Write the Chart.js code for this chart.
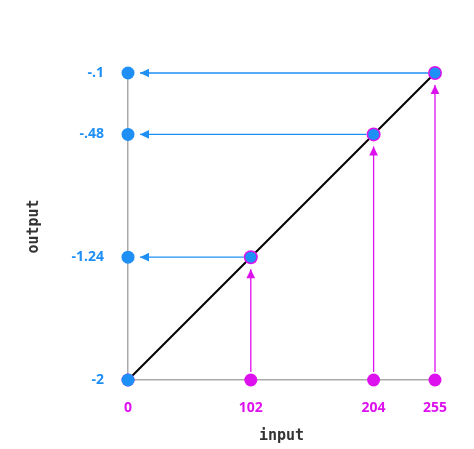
<!DOCTYPE html>
<html>
<head>
<meta charset="utf-8">
<script src="https://cdn.jsdelivr.net/npm/chart.js@4"></script>
<style>body{margin:0;background:#fff}</style>
</head>
<body>
<canvas id="c" width="474" height="449"></canvas>
<script>
const inputs = [0, 102, 204, 255];
const outputs = [-2, -1.24, -0.48, -0.1];
const blue = "#1e8ff5";
const magenta = "#dd11ee";

// arrows: blue from curve point to y axis, magenta from x axis up to curve
const arrowPlugin = {
  id: "arrows",
  beforeDatasetsDraw(chart) {
    const { ctx, scales: { x, y } } = chart;
    const head = (x1, y1, x2, y2, color) => {
      const a = Math.atan2(y2 - y1, x2 - x1);
      ctx.strokeStyle = color; ctx.fillStyle = color; ctx.lineWidth = 1.3;
      ctx.beginPath(); ctx.moveTo(x1, y1); ctx.lineTo(x2, y2); ctx.stroke();
      ctx.beginPath();
      ctx.moveTo(x2, y2);
      ctx.lineTo(x2 - 10 * Math.cos(a - 0.45), y2 - 10 * Math.sin(a - 0.45));
      ctx.lineTo(x2 - 10 * Math.cos(a + 0.45), y2 - 10 * Math.sin(a + 0.45));
      ctx.closePath(); ctx.fill();
    };
    ctx.save();
    for (let i = 1; i < inputs.length; i++) {
      const px = x.getPixelForValue(inputs[i]);
      const py = y.getPixelForValue(outputs[i]);
      head(px - 7, py, x.getPixelForValue(0) + 12, py, blue);
      head(px, y.getPixelForValue(-2) - 8, px, py + 12, magenta);
    }
    ctx.restore();
  }
};

new Chart(document.getElementById("c"), {
  type: "scatter",
  data: {
    datasets: [
      { type: "line", data: [{ x: 0, y: -2 }, { x: 255, y: -0.1 }], borderColor: "#000", borderWidth: 2, pointRadius: 0 },
      { data: inputs.map(v => ({ x: v, y: -2 })), backgroundColor: magenta, pointRadius: 6.5, borderWidth: 0 },
      { data: inputs.slice(1).map((v, i) => ({ x: v, y: outputs[i + 1] })), backgroundColor: magenta, pointRadius: 7, borderWidth: 0 },
      { data: inputs.slice(1).map((v, i) => ({ x: v, y: outputs[i + 1] })), backgroundColor: blue, pointRadius: 5.5, borderWidth: 0 },
      { data: outputs.map(v => ({ x: 0, y: v })), backgroundColor: blue, pointRadius: 6.5, borderWidth: 0 }
    ].reverse()
  },
  options: {
    responsive: false,
    animation: false,
    clip: false,
    layout: { padding: { top: 73, right: 39 } },
    plugins: { legend: { display: false }, tooltip: { enabled: false } },
    scales: {
      x: {
        type: "linear", min: 0, max: 255,
        afterBuildTicks: s => { s.ticks = inputs.map(v => ({ value: v })); },
        afterFit: s => { s.height = 69; },
        grid: { display: false },
        border: { color: "#aaa", width: 1.5 },
        ticks: { color: magenta, font: { family: "Open Sans", weight: "bold", size: 14 }, padding: 12 },
        title: { display: true, text: "input", color: "#333", font: { family: "DejaVu Sans Mono", weight: "bold", size: 15 }, padding: { top: 0 } }
      },
      y: {
        type: "linear", min: -2, max: -0.1,
        afterBuildTicks: s => { s.ticks = outputs.map(v => ({ value: v })); },
        afterFit: s => { s.width = 128; },
        grid: { display: false },
        border: { color: "#aaa", width: 1.5 },
        ticks: { color: blue, font: { family: "Open Sans", weight: "bold", size: 14 }, padding: 16,
          callback: v => String(v).replace("0.", ".") },
        title: { display: true, text: "output", color: "#333", font: { family: "DejaVu Sans Mono", weight: "bold", size: 15 }, padding: { top: 25, bottom: 0 } }
      }
    }
  },
  plugins: [arrowPlugin]
});
</script>
</body>
</html>
